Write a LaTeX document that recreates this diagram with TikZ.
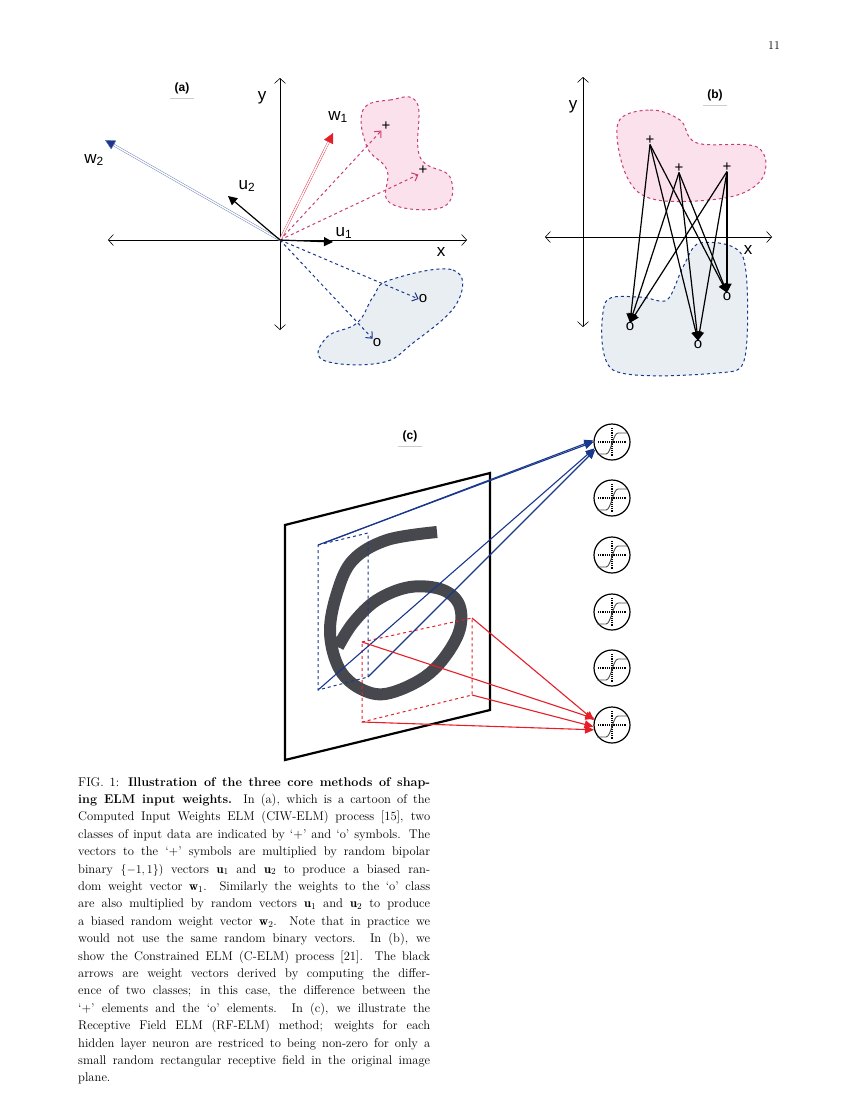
\documentclass[tikz,border=0pt]{standalone}
\usepackage{fontspec}
\newfontfamily\arial{Liberation Sans}
\usetikzlibrary{arrows.meta}
\definecolor{pinkl}{RGB}{250,225,235}
\definecolor{pinkd}{RGB}{200,60,120}
\definecolor{bluel}{RGB}{232,238,242}
\definecolor{blued}{RGB}{25,55,140}
\definecolor{redd}{RGB}{230,30,40}
\definecolor{inkgray}{RGB}{70,72,78}
\tikzset{
  axis/.style={semithick,{Straight Barb[length=5pt,width=11pt]}-{Straight Barb[length=5pt,width=11pt]}},
  lab/.style={font=\arial\fontsize{17}{17}\selectfont,inner sep=0pt},
  panel/.style={font=\arial\bfseries\fontsize{12}{12}\selectfont,fill=white,inner sep=4pt},
  pt/.style={font=\arial\fontsize{15}{15}\selectfont,inner sep=0pt},
  dasharr/.style={dashed,line width=1pt,-{Straight Barb[length=5pt,width=9pt]}},
  blk/.style={line width=1.2pt,-{Triangle[length=9pt,width=9pt]}},
  blobp/.style={dashed,pinkd,fill=pinkl,line width=1pt},
  blobb/.style={dashed,blued,fill=bluel,line width=1pt},
  neur/.style={circle,draw,line width=1.2pt,minimum size=36pt,inner sep=0pt},
}
\begin{document}
\begin{tikzpicture}[x=1pt,y=-1pt]
\useasboundingbox (0,0) rectangle (850,1100);
\node[font=\fontsize{12}{12}\selectfont] (pg) at (774,46) {11};
% ---------- (a)
\node[panel] (la) at (182,88) {(a)};
\draw[gray!40] (la.south west) -- (la.south east);
\coordinate (o) at (280,240);
\draw[blobp] plot[smooth cycle,tension=0.7] coordinates{(363,110)(390,100)(417,103)(420,157)(450,177)(443,207)(390,203)(387,170)(367,147)};
\draw[blobb] plot[smooth cycle,tension=0.7] coordinates{(390,280)(453,270)(457,303)(413,343)(380,363)(323,360)(327,337)(357,323)(373,297)};
\coordinate (xl) at (108,240); \coordinate (xr) at (467,240);
\coordinate (yt) at (280,78); \coordinate (yb) at (280,330);
\draw[axis] (xl) -- (xr);
\draw[axis] (yt) -- (yb);
\node[lab] (ya) at (262,98) {y};
\node[lab] (xa) at (441,252) {x};
\node[pt] (p1) at (386,126) {+};
\node[pt] (p2) at (423,170) {+};
\node[pt] (o1) at (423,299) {o};
\node[pt] (o2) at (377,343) {o};
\draw[dasharr,pinkd] (o) -- (p1.south west);
\draw[dasharr,pinkd] (o) -- (p2.south west);
\draw[dasharr,blued] (o) -- (o1.west);
\draw[dasharr,blued] (o) -- (o2.north west);
\coordinate (w1t) at (333,133);
\coordinate (w2t) at (105,140);
\coordinate (u1t) at (333,242);
\coordinate (u2t) at (228,196);
\draw[double=white,draw=redd!80!pinkd,double distance=1.5pt,-{Triangle[length=10pt,width=10pt,fill=redd]}] (o) -- (w1t);
\draw[double=white,draw=blued!70,double distance=1.5pt,-{Triangle[length=10pt,width=10pt,fill=blued]}] (o) -- (w2t);
\draw[blk] (o) -- (u1t);
\draw[blk] (o) -- (u2t);
\node[lab] (w1l) at (338,117) {w\textsubscript{1}};
\node[lab] (w2l) at (94,160) {w\textsubscript{2}};
\node[lab] (u1l) at (344,233) {u\textsubscript{1}};
\node[lab] (u2l) at (247,186) {u\textsubscript{2}};
% ---------- (b)
\node[panel] (lb) at (715,95) {(b)};
\draw[gray!40] (lb.south west) -- (lb.south east);
\draw[blobp] plot[smooth cycle,tension=0.6] coordinates{(618,123)(650,110)(680,120)(697,143)(757,147)(763,177)(730,197)(657,200)(627,177)};
\draw[blobb] plot[smooth cycle,tension=0.5] coordinates{(700,243)(743,257)(745,357)(717,373)(613,370)(605,303)(640,297)(667,300)(683,267)};
\draw[axis] (545,237) coordinate (bxl) -- (772,237) coordinate (bxr);
\draw[axis] (583,77) coordinate (byt) -- (583,327) coordinate (byb);
\node[lab] (yb) at (573,107) {y};
\node[lab] (xb) at (748,250) {x};
\node[pt] (bp1) at (650,140) {+};
\node[pt] (bp2) at (679,168) {+};
\node[pt] (bp3) at (727,167) {+};
\node[pt] (bo1) at (630,327) {o};
\node[pt] (bo2) at (698,345) {o};
\node[pt] (bo3) at (727,297) {o};
\foreach \p in {bp1,bp2,bp3}{
  \draw[blk] (\p.south) -- (bo1.north);
  \draw[blk] (\p.south) -- (bo2.north);
  \draw[blk] (\p.south) -- (bo3.north);
}
% ---------- (c)
\node[panel] (lc) at (410,436) {(c)};
\draw[gray!40] (lc.south west) -- (lc.south east);
\draw[line width=2.2pt] (285,525) coordinate (pl1) -- (490,473) coordinate (pl2) -- (490,710) coordinate (pl3) -- (285,760) coordinate (pl4) -- cycle;
\draw[inkgray,line width=12pt,line cap=butt,line join=round] plot[smooth,tension=0.6] coordinates{(437,532)(387,540)(353,560)(337,593)(330,633)(340,670)(363,690)(390,693)(430,673)(457,637)(460,607)(443,590)(410,587)(377,600)(353,623)(338,647)};
\coordinate (btl) at (318,545); \coordinate (btr) at (368,533);
\coordinate (bbr) at (368,677); \coordinate (bbl) at (318,690);
\draw[dashed,blued,line width=1pt] (btl) -- (btr) -- (bbr) -- (bbl) -- cycle;
\coordinate (rtl) at (362,642); \coordinate (rtr) at (472,618);
\coordinate (rbr) at (472,695); \coordinate (rbl) at (362,722);
\draw[dashed,redd,line width=1pt] (rtl) -- (rtr) -- (rbr) -- (rbl) -- cycle;
\foreach \i/\y in {1/442,2/498,3/555,4/612,5/668,6/725}{
  \node[neur] (n\i) at (612,\y) {};
  \draw[densely dotted,line width=1.2pt] (598,\y) -- (626,\y) (612,\y-14) -- (612,\y+14);
  \draw[line width=0.9pt,gray!60!black] (597,\y+12) -- (606,\y+12) .. controls (611,\y+12) and (613,\y-9) .. (618,\y-9) -- (628,\y-9);
}
\tikzset{ca/.style={line width=1.1pt,-{Triangle[length=9pt,width=8pt]}}}
\draw[ca,blued] (btl) -- (n1.180);
\draw[ca,blued] (btl) ++(6,-2) -- (n1.175);
\draw[ca,blued] (bbl) -- (n1.200);
\draw[ca,blued] (bbr) -- (n1.205);
\draw[ca,redd] (rtl) -- (n6.160);
\draw[ca,redd] (rtr) -- (n6.165);
\draw[ca,redd] (rbr) -- (n6.185);
\draw[ca,redd] (rbl) -- (n6.195);
% ---------- caption
\node[anchor=north west,inner sep=0pt,text width=352pt,align=justify,
 font=\fontsize{12.6}{17.4}\selectfont] (cap) at (78,777) {%
FIG. 1: \textbf{Illustration of the three core methods of shap-\linebreak
ing ELM input weights.} In (a), which is a cartoon of the\linebreak
Computed Input Weights ELM (CIW-ELM) process [15], two\linebreak
classes of input data are indicated by `+' and `o' symbols. The\linebreak
vectors to the `+' symbols are multiplied by random bipolar\linebreak
binary $\{-1,1\})$ vectors $\mathbf{u}_1$ and $\mathbf{u}_2$ to produce a biased ran-\linebreak
dom weight vector $\mathbf{w}_1$. Similarly the weights to the `o' class\linebreak
are also multiplied by random vectors $\mathbf{u}_1$ and $\mathbf{u}_2$ to produce\linebreak
a biased random weight vector $\mathbf{w}_2$. Note that in practice we\linebreak
would not use the same random binary vectors. In (b), we\linebreak
show the Constrained ELM (C-ELM) process [21]. The black\linebreak
arrows are weight vectors derived by computing the differ-\linebreak
ence of two classes; in this case, the difference between the\linebreak
`+' elements and the `o' elements. In (c), we illustrate the\linebreak
Receptive Field ELM (RF-ELM) method; weights for each\linebreak
hidden layer neuron are restriced to being non-zero for only a\linebreak
small random rectangular receptive field in the original image\linebreak
plane.};
\end{tikzpicture}
\end{document}
